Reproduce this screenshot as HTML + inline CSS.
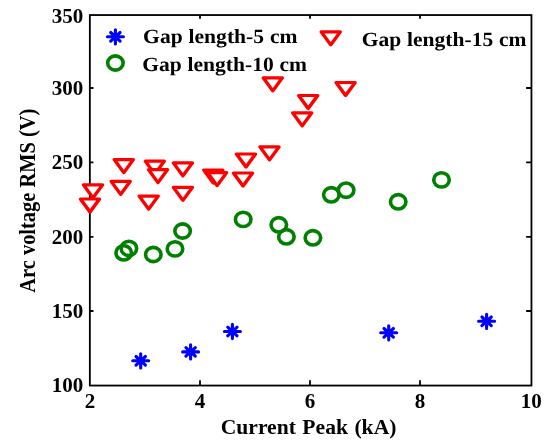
<!DOCTYPE html>
<html><head><meta charset="utf-8"><title>Arc voltage RMS vs Current Peak</title><style>
html,body{margin:0;padding:0;background:#fff;}
svg{display:block;}
text{font-family:"Liberation Serif","Times New Roman",serif;font-weight:bold;fill:#000;}
</style></head><body>
<svg width="550" height="446" viewBox="0 0 550 446">
<rect width="550" height="446" fill="#fff"/>
<g font-size="21"><text x="89.90" y="408.2" text-anchor="middle">2</text><text x="200.10" y="408.2" text-anchor="middle">4</text><text x="310.10" y="408.2" text-anchor="middle">6</text><text x="420.10" y="408.2" text-anchor="middle">8</text><text x="531.20" y="408.2" text-anchor="middle">10</text><text x="83.2" y="392.20" text-anchor="end">100</text><text x="83.2" y="318.10" text-anchor="end">150</text><text x="83.2" y="243.50" text-anchor="end">200</text><text x="83.2" y="169.20" text-anchor="end">250</text><text x="83.2" y="95.20" text-anchor="end">300</text><text x="83.2" y="23.20" text-anchor="end">350</text></g>
<path d="M200.00 385.55V380.25M200.00 15.05V18.65M310.00 385.55V380.25M310.00 15.05V18.65M420.00 385.55V380.25M420.00 15.05V18.65M89.85 88.00H93.45M531.45 88.00H526.15M89.85 162.40H93.45M531.45 162.40H526.15M89.85 236.80H93.45M531.45 236.80H526.15M89.85 311.00H93.45M531.45 311.00H526.15" stroke="#000" stroke-width="1.8" fill="none"/>
<rect x="89.85" y="15.05" width="441.60" height="370.50" stroke="#000" stroke-width="1.8" fill="none"/>
<text x="220.7" y="434.0" font-size="21.6" word-spacing="1.1">Current Peak (kA)</text>
<text transform="translate(34.9,292.7) rotate(-90) scale(1,1.08)" font-size="20.45">Arc voltage RMS (V)</text>
<g font-size="21" word-spacing="0.5" text-rendering="geometricPrecision">
<text transform="translate(143.1,42.5) scale(1.027,0.96)">Gap length-5 cm</text>
<text transform="translate(142.2,70.6) scale(1.025,0.96)">Gap length-10 cm</text>
<text transform="translate(361.7,46.4) scale(1.025,0.96)">Gap length-15 cm</text>
</g>
<g fill="none" stroke="#0000ff" stroke-width="3.1" stroke-linecap="round"><path d="M107.40 36.80H123.40M115.40 29.70V43.90M110.70 32.50L120.10 41.10M110.70 41.10L120.10 32.50"/><path d="M132.70 360.80H148.70M140.70 353.70V367.90M136.00 356.50L145.40 365.10M136.00 365.10L145.40 356.50"/><path d="M182.60 351.90H198.60M190.60 344.80V359.00M185.90 347.60L195.30 356.20M185.90 356.20L195.30 347.60"/><path d="M224.40 331.50H240.40M232.40 324.40V338.60M227.70 327.20L237.10 335.80M227.70 335.80L237.10 327.20"/><path d="M380.70 332.80H396.70M388.70 325.70V339.90M384.00 328.50L393.40 337.10M384.00 337.10L393.40 328.50"/><path d="M478.60 321.30H494.60M486.60 314.20V328.40M481.90 317.00L491.30 325.60M481.90 325.60L491.30 317.00"/></g>
<g fill="#008000" fill-rule="evenodd"><path d="M105.85 63.00a9.55 8.95 0 1 0 19.10 0a9.55 8.95 0 1 0 -19.10 0ZM109.45 63.00a5.95 5.35 0 1 0 11.90 0a5.95 5.35 0 1 0 -11.90 0Z"/><path d="M114.15 252.80a9.55 8.95 0 1 0 19.10 0a9.55 8.95 0 1 0 -19.10 0ZM117.75 252.80a5.95 5.35 0 1 0 11.90 0a5.95 5.35 0 1 0 -11.90 0Z"/><path d="M119.35 248.40a9.55 8.95 0 1 0 19.10 0a9.55 8.95 0 1 0 -19.10 0ZM122.95 248.40a5.95 5.35 0 1 0 11.90 0a5.95 5.35 0 1 0 -11.90 0Z"/><path d="M143.75 254.50a9.55 8.95 0 1 0 19.10 0a9.55 8.95 0 1 0 -19.10 0ZM147.35 254.50a5.95 5.35 0 1 0 11.90 0a5.95 5.35 0 1 0 -11.90 0Z"/><path d="M165.45 248.90a9.55 8.95 0 1 0 19.10 0a9.55 8.95 0 1 0 -19.10 0ZM169.05 248.90a5.95 5.35 0 1 0 11.90 0a5.95 5.35 0 1 0 -11.90 0Z"/><path d="M173.05 231.00a9.55 8.95 0 1 0 19.10 0a9.55 8.95 0 1 0 -19.10 0ZM176.65 231.00a5.95 5.35 0 1 0 11.90 0a5.95 5.35 0 1 0 -11.90 0Z"/><path d="M233.65 219.40a9.55 8.95 0 1 0 19.10 0a9.55 8.95 0 1 0 -19.10 0ZM237.25 219.40a5.95 5.35 0 1 0 11.90 0a5.95 5.35 0 1 0 -11.90 0Z"/><path d="M269.25 224.80a9.55 8.95 0 1 0 19.10 0a9.55 8.95 0 1 0 -19.10 0ZM272.85 224.80a5.95 5.35 0 1 0 11.90 0a5.95 5.35 0 1 0 -11.90 0Z"/><path d="M276.85 236.80a9.55 8.95 0 1 0 19.10 0a9.55 8.95 0 1 0 -19.10 0ZM280.45 236.80a5.95 5.35 0 1 0 11.90 0a5.95 5.35 0 1 0 -11.90 0Z"/><path d="M303.35 237.80a9.55 8.95 0 1 0 19.10 0a9.55 8.95 0 1 0 -19.10 0ZM306.95 237.80a5.95 5.35 0 1 0 11.90 0a5.95 5.35 0 1 0 -11.90 0Z"/><path d="M321.75 194.80a9.55 8.95 0 1 0 19.10 0a9.55 8.95 0 1 0 -19.10 0ZM325.35 194.80a5.95 5.35 0 1 0 11.90 0a5.95 5.35 0 1 0 -11.90 0Z"/><path d="M336.55 190.20a9.55 8.95 0 1 0 19.10 0a9.55 8.95 0 1 0 -19.10 0ZM340.15 190.20a5.95 5.35 0 1 0 11.90 0a5.95 5.35 0 1 0 -11.90 0Z"/><path d="M388.65 201.80a9.55 8.95 0 1 0 19.10 0a9.55 8.95 0 1 0 -19.10 0ZM392.25 201.80a5.95 5.35 0 1 0 11.90 0a5.95 5.35 0 1 0 -11.90 0Z"/><path d="M431.95 179.90a9.55 8.95 0 1 0 19.10 0a9.55 8.95 0 1 0 -19.10 0ZM435.55 179.90a5.95 5.35 0 1 0 11.90 0a5.95 5.35 0 1 0 -11.90 0Z"/></g>
<g fill="#fff" stroke="#ff0000" stroke-width="3.2" stroke-linejoin="round"><path transform="translate(330.75,29.90) scale(1.08,1)" d="M-8.8 1.9H8.8L0 14.9Z"/><path transform="translate(93.00,182.90) scale(1.08,1)" d="M-8.8 1.9H8.8L0 14.9Z"/><path transform="translate(90.00,197.10) scale(1.08,1)" d="M-8.8 1.9H8.8L0 14.9Z"/><path transform="translate(123.80,157.70) scale(1.08,1)" d="M-8.8 1.9H8.8L0 14.9Z"/><path transform="translate(120.70,179.50) scale(1.08,1)" d="M-8.8 1.9H8.8L0 14.9Z"/><path transform="translate(154.80,159.30) scale(1.08,1)" d="M-8.8 1.9H8.8L0 14.9Z"/><path transform="translate(158.00,167.80) scale(1.08,1)" d="M-8.8 1.9H8.8L0 14.9Z"/><path transform="translate(148.70,194.20) scale(1.08,1)" d="M-8.8 1.9H8.8L0 14.9Z"/><path transform="translate(182.90,161.00) scale(1.08,1)" d="M-8.8 1.9H8.8L0 14.9Z"/><path transform="translate(182.90,185.40) scale(1.08,1)" d="M-8.8 1.9H8.8L0 14.9Z"/><path transform="translate(213.30,168.10) scale(1.08,1)" d="M-8.8 1.9H8.8L0 14.9Z"/><path transform="translate(217.10,170.70) scale(1.08,1)" d="M-8.8 1.9H8.8L0 14.9Z"/><path transform="translate(246.00,152.10) scale(1.08,1)" d="M-8.8 1.9H8.8L0 14.9Z"/><path transform="translate(243.00,171.10) scale(1.08,1)" d="M-8.8 1.9H8.8L0 14.9Z"/><path transform="translate(269.50,145.00) scale(1.08,1)" d="M-8.8 1.9H8.8L0 14.9Z"/><path transform="translate(272.80,76.00) scale(1.08,1)" d="M-8.8 1.9H8.8L0 14.9Z"/><path transform="translate(308.20,93.60) scale(1.08,1)" d="M-8.8 1.9H8.8L0 14.9Z"/><path transform="translate(302.20,111.00) scale(1.08,1)" d="M-8.8 1.9H8.8L0 14.9Z"/><path transform="translate(345.60,80.60) scale(1.08,1)" d="M-8.8 1.9H8.8L0 14.9Z"/></g>
</svg>
</body></html>
